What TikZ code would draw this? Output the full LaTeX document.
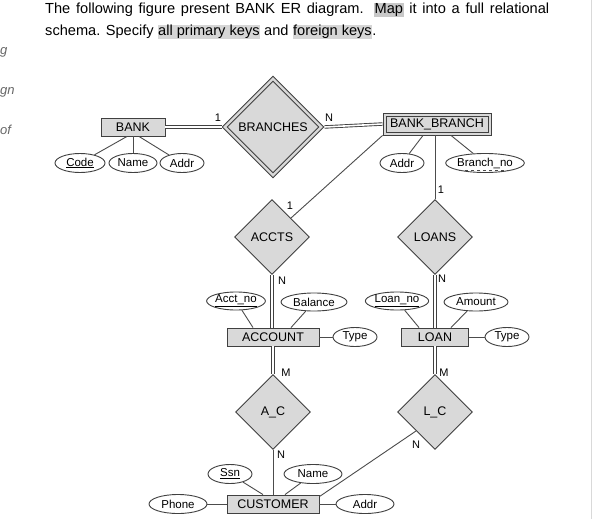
\documentclass[tikz,border=0pt]{standalone}
\usepackage{fontspec}
\setmainfont{Liberation Sans}
\usetikzlibrary{shapes.geometric}
\definecolor{efill}{HTML}{D9D9D9}
\definecolor{hl}{HTML}{C8C8C8}
\definecolor{hl2}{HTML}{D6D6D6}
\begin{document}
\begin{tikzpicture}[x=1pt,y=-1pt,
  ent/.style={draw=black!75,line width=0.9pt,fill=efill,minimum height=18pt,inner sep=1pt,font=\fontsize{12.5}{13}\selectfont},
  att/.style={draw=black!75,line width=0.9pt,ellipse,minimum height=19pt,inner sep=0pt,font=\fontsize{11.5}{12}\selectfont},
  rel/.style={draw=black!75,line width=0.9pt,fill=efill,diamond,minimum width=75pt,minimum height=75pt,inner sep=0pt,font=\fontsize{12.5}{13}\selectfont},
  dbl/.style={draw=black!75,double=white,double distance=1.6pt,line width=0.9pt},
  ln/.style={draw=black!70,line width=0.9pt},
  card/.style={font=\fontsize{11}{12}\selectfont,inner sep=0pt}]
\useasboundingbox (0,0) rectangle (601,519);
\fill[white] (0,0) rectangle (601,519);
\draw[black!15] (591,0) -- (591,519);
% header
\node[anchor=north west,inner sep=0pt,text width=504pt,align=justify,font=\fontsize{14.6}{22}\selectfont] (hdr) at (45,3)
 {The following figure present BANK ER diagram. {\setlength{\fboxsep}{0.5pt}\colorbox{hl}{Map}} it into a full relational schema. Specify {\setlength{\fboxsep}{0.5pt}\colorbox{hl2}{all primary keys}} and {\setlength{\fboxsep}{0.5pt}\colorbox{hl2}{foreign keys}}.};
\node[anchor=west,inner sep=0pt,text=black!60,font=\itshape\fontsize{13}{14}\selectfont] (m1) at (0,52) {g};
\node[anchor=west,inner sep=0pt,text=black!60,font=\itshape\fontsize{13}{14}\selectfont] (m2) at (0,92) {gn};
\node[anchor=west,inner sep=0pt,text=black!60,font=\itshape\fontsize{13}{14}\selectfont] (m3) at (0,130) {of};
% entities
\node[ent,minimum width=64pt] (bank) at (133,127) {BANK};
\node[ent,minimum width=108pt,minimum height=22pt] (bb) at (437,124) {};
\node[draw=black!75,line width=0.9pt,minimum width=102pt,minimum height=16pt,inner sep=1pt,font=\fontsize{12.5}{13}\selectfont] (bbin) at (437,124) {BANK\_BRANCH};
\node[ent,minimum width=92pt] (acc) at (273,337) {ACCOUNT};
\node[ent,minimum width=67pt] (loan) at (435,337) {LOAN};
\node[ent,minimum width=92pt] (cust) at (273,504) {CUSTOMER};
% relationships
\node[rel,minimum width=102pt,minimum height=102pt] (br) at (273,127) {};
\node[draw=black!75,line width=0.9pt,diamond,minimum width=92pt,minimum height=92pt,inner sep=0pt,font=\fontsize{12.5}{13}\selectfont] (brin) at (273,127) {BRANCHES};
\node[rel] (accts) at (272,237) {ACCTS};
\node[rel] (loans) at (435,237) {LOANS};
\node[rel] (ac) at (273,412) {A\_C};
\node[rel] (lc) at (435,412) {L\_C};
% attributes
\node[att,minimum width=50pt] (code) at (80,163) {\underline{Code}};
\node[att,minimum width=48pt] (bname) at (133,163) {Name};
\node[att,minimum width=44pt] (baddr) at (182,163) {Addr};
\node[att,minimum width=44pt] (bbaddr) at (402,163) {Addr};
\node[att,minimum width=70pt] (bno) at (485,163) {Branch\_no};
\draw[dashed,black!70,line width=0.5pt] ([xshift=-26pt,yshift=-7pt]bno.center) -- ([xshift=26pt,yshift=-7pt]bno.center);
\node[att,minimum width=52pt,minimum height=18pt] (ano) at (236,301) {\underline{Acct\_no}};
\node[att,minimum width=66pt,minimum height=18pt] (bal) at (314,302) {Balance};
\node[att,minimum width=44pt] (atype) at (355,337) {Type};
\node[att,minimum width=50pt,minimum height=18pt] (lno) at (397,301) {\underline{Loan\_no}};
\node[att,minimum width=64pt,minimum height=18pt] (amt) at (476,302) {Amount};
\node[att,minimum width=44pt] (ltype) at (507,337) {Type};
\node[att,minimum width=44pt] (ssn) at (230,474) {\underline{Ssn}};
\node[att,minimum width=58pt] (cname) at (313,474) {Name};
\node[att,minimum width=58pt] (phone) at (178,504) {Phone};
\node[att,minimum width=58pt] (caddr) at (365,504) {Addr};
% attribute links
\draw[ln] ([xshift=-6pt]bank.south) -- (code);
\draw[ln] (bank.south) -- (bname);
\draw[ln] ([xshift=6pt]bank.south) -- (baddr);
\draw[ln] ([xshift=-14pt]bb.south) -- (bbaddr);
\draw[ln] ([xshift=14pt]bb.south) -- (bno);
\draw[ln] ([xshift=-20pt]acc.north) -- (ano);
\draw[ln] ([xshift=18pt]acc.north) -- (bal);
\draw[ln] (acc) -- (atype);
\draw[ln] ([xshift=-16pt]loan.north) -- (lno);
\draw[ln] ([xshift=16pt]loan.north) -- (amt);
\draw[ln] (loan) -- (ltype);
\draw[ln] ([xshift=-10pt]cust.north) -- (ssn);
\draw[ln] ([xshift=12pt]cust.north) -- (cname);
\draw[ln] (cust) -- (phone);
\draw[ln] (cust) -- (caddr);
% relationship links
\draw[dbl] (bank.east) -- (br.west);
\draw[dbl] (br.east) -- (bb.west);
\draw[ln] (bb.south west) -- (accts.north east);
\draw[ln] (bb.south -| loans.north) -- (loans.north);
\draw[dbl] (accts.south) -- (acc.north -| accts.south);
\draw[dbl] (loans.south) -- (loan.north -| loans.south);
\draw[dbl] (acc.south) -- (ac.north);
\draw[dbl] (loan.south) -- (lc.north);
\draw[ln] (ac.south) -- (cust.north);
\draw[ln] (lc.south west) -- ([yshift=-2pt]cust.north east);
% cardinalities
\node[card] (c1) at (218,118) {1};
\node[card] (c2) at (329,118) {N};
\node[card] (c3) at (290,206) {1};
\node[card] (c4) at (441,190) {1};
\node[card] (c5) at (282,281) {N};
\node[card] (c6) at (442,279) {N};
\node[card] (c7) at (286,373) {M};
\node[card] (c8) at (444,373) {M};
\node[card] (c9) at (281,455) {N};
\node[card] (c10) at (416,445) {N};
\end{tikzpicture}
\end{document}
